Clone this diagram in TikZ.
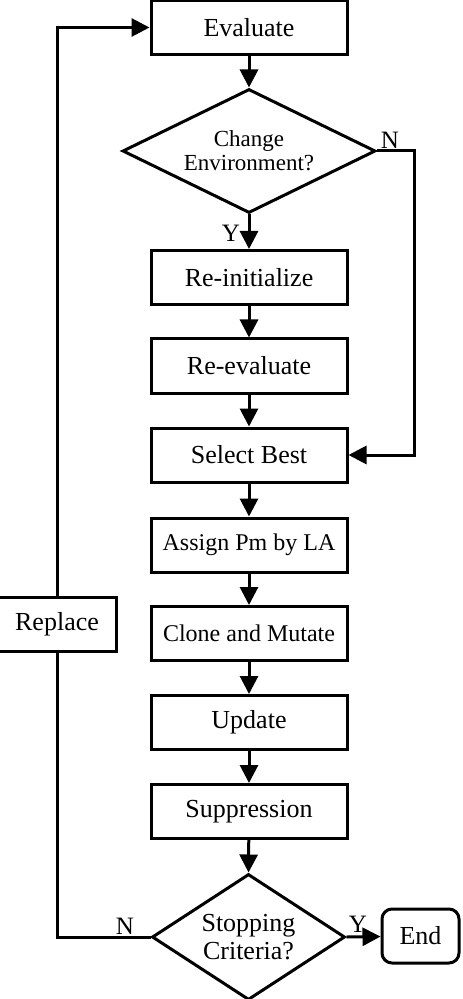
\documentclass[tikz,border=0pt]{standalone}
\usepackage{fontspec}
\setmainfont{Liberation Serif}
\usetikzlibrary{arrows.meta,positioning,shapes.geometric}

\begin{document}
\begin{tikzpicture}[x = .5pt, y = -.5pt,
	proc/.style = {draw, line width = 1.5pt, minimum width = 98pt, minimum height = 27pt, inner sep = 0pt, font = \fontsize{13}{15}\selectfont},
	decide/.style = {draw, diamond, line width = 1.5pt, inner sep = 0pt, align = center},
	flow/.style = {-{Triangle[length = 9pt, width = 9pt]}, line width = 1.5pt},
	lbl/.style = {font = \fontsize{12.5}{14}\selectfont, inner sep = 0pt}]
	\useasboundingbox (0,0) rectangle (462,999);
	% main column
	\node[proc] (eval) at (249,27.5) {Evaluate};
	\node[decide, aspect = 2.04, minimum width = 126.5pt, minimum height = 62pt, font = \fontsize{11.5}{12}\selectfont] (chg) at (249,151) {Change\\Environment?};
	\node[proc] (reinit) at (249,277.5) {Re-initialize};
	\node[proc] (reeval) at (249,366) {Re-evaluate};
	\node[proc] (best) at (249,455) {Select Best};
	\node[proc, font = \fontsize{12}{14}\selectfont] (assign) at (249,545) {Assign Pm by LA};
	\node[proc, font = \fontsize{12}{14}\selectfont] (clone) at (249,633.5) {Clone and Mutate};
	\node[proc] (update) at (249,722.5) {Update};
	\node[proc] (supp) at (249,811.5) {Suppression};
	\node[decide, aspect = 1.53, minimum width = 96.5pt, minimum height = 63pt, font = \fontsize{13}{14}\selectfont] (stop) at (248.5,937) {Stopping\\Criteria?};
	\node[proc, rounded corners = 5pt, minimum width = 38.5pt] (end) at (420.5,936) {End};
	\node[proc, minimum width = 59pt] (replace) at (57,624.5) {Replace};
	\draw[flow] (eval) -- (chg.north);
	\draw[flow] (chg.south) -- (reinit);
	\draw[flow] (reinit) -- (reeval);
	\draw[flow] (reeval) -- (best);
	\draw[flow] (best) -- (assign);
	\draw[flow] (assign) -- (clone);
	\draw[flow] (clone) -- (update);
	\draw[flow] (update) -- (supp);
	\draw[flow] (supp) -- (stop.north);
	\draw[flow] (stop.east) -- (end);
	% no change branch
	\coordinate (rline) at (414,0);
	\draw[flow] (chg.east) -| (rline |- best.east) -- (best.east);
	% loop back
	\draw[line width = 1.5pt] (stop.west) -| (replace.south);
	\draw[flow] (replace.north) |- (eval.west);
	\node[lbl] (n1) at (390,140) {N};
	\node[lbl] (y1) at (231,233) {Y};
	\node[lbl] (n2) at (125,926) {N};
	\node[lbl] (y2) at (358,924) {Y};
\end{tikzpicture}
\end{document}
